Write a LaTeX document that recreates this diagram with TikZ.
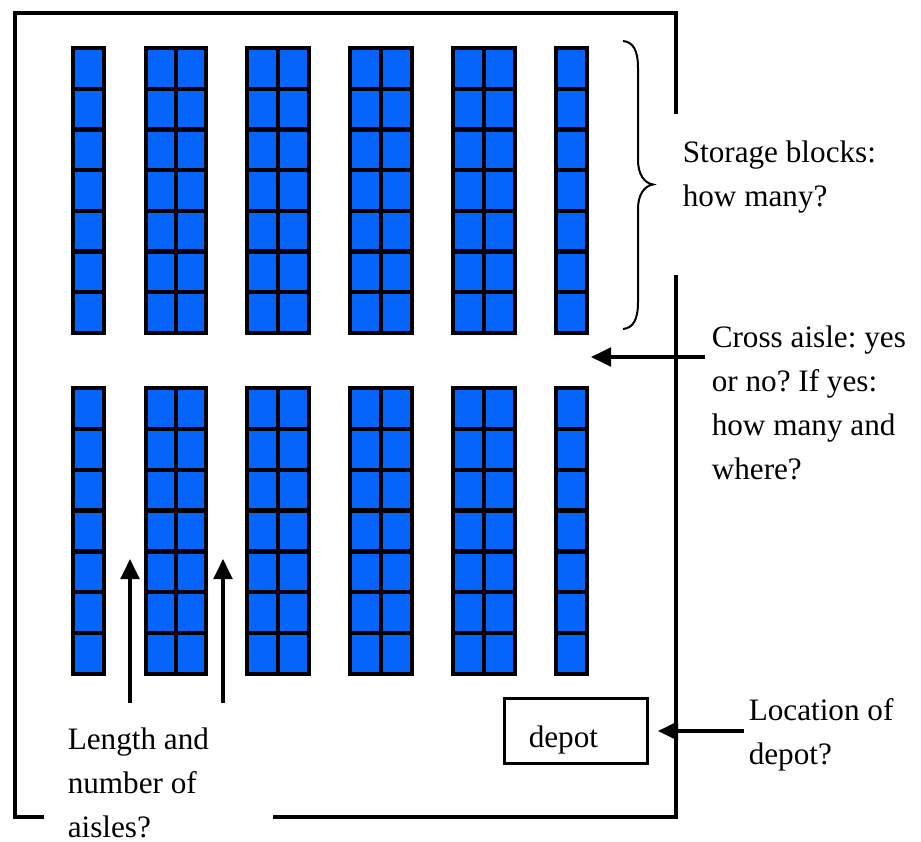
\documentclass[tikz,border=0pt]{standalone}
\usepackage{fontspec}
\setmainfont{Liberation Serif}
\usetikzlibrary{arrows.meta}
\definecolor{rackblue}{RGB}{5,100,250}
\frenchspacing

\begin{document}
\begin{tikzpicture}[x=0.75pt, y=-0.75pt,
    wall/.style={line width=3.4pt, line cap=butt, line join=miter},
    rackcell/.style={draw, fill=rackblue, line width=3.3pt, line join=miter},
    pointer/.style={line width=2.4pt, -{Triangle[length=15pt, width=14pt]}},
    caption/.style={inner sep=0pt, anchor=base west, align=left,
      font=\fontsize{23.4}{33}\selectfont}]
  \useasboundingbox (0,0) rectangle (921,842);

  % outer walls
  \draw[wall] (44,817) -- (15,817) -- (15,13) -- (676,13) -- (676,114);
  \draw[wall] (676,275) -- (676,817) -- (273,817);

  % storage racks
  \foreach \top/\bottom in {48/333, 388/674} {
    \foreach \left/\right in {73/104, 146/176, 176/206, 247/278, 278/309,
        350/381, 381/412, 453/484, 484/515, 556/587} {
      \foreach \row in {0,...,6} {
        \draw[rackcell] (\left,{\top+\row*(\bottom-\top)/7}) rectangle
          (\right,{\top+(\row+1)*(\bottom-\top)/7});
      }
    }
  }

  % brace
  \draw[line width=1.5pt] (623,41) .. controls (633,42) and (638,50) .. (638,68)
    -- (638,160) .. controls (638,174) and (644,183) .. (653,184.5)
    .. controls (644,186) and (638,195) .. (638,209)
    -- (638,302) .. controls (638,320) and (633,328) .. (623,329);

  % labels
  \node[caption] (blocks) at (682.5,206.5) {Storage blocks:\\how many?};
  \node[caption] (cross) at (711.5,479.5) {Cross aisle: yes\\or no? If yes:\\how many and\\where?};
  \node[caption] (aisles) at (67.5,837) {Length and\\number of\\aisles?};
  \node[caption] (location) at (748.5,764.5) {Location of\\depot?};

  % depot
  \node[draw, line width=1.6pt, minimum width=143pt*0.75, minimum height=65pt*0.75,
    inner sep=0pt] (depotbox) at (576,731) {};
  \node[inner sep=0pt, anchor=base west, font=\fontsize{23.4}{33}\selectfont]
    (depot) at (528.5,747.5) {depot};

  % arrows
  \coordinate (crossstart) at (705,357);
  \coordinate (crosstip) at (591,357);
  \coordinate (aisleonestart) at (130,703);
  \coordinate (aisleonetip) at (130,559);
  \coordinate (aisletwostart) at (223,703);
  \coordinate (aisletwotip) at (223,559);
  \coordinate (locationstart) at (744,731);
  \coordinate (locationtip) at (658,731);
  \draw[pointer] (crossstart) -- (crosstip);
  \draw[pointer] (aisleonestart) -- (aisleonetip);
  \draw[pointer] (aisletwostart) -- (aisletwotip);
  \draw[pointer] (locationstart) -- (locationtip);
\end{tikzpicture}
\end{document}
